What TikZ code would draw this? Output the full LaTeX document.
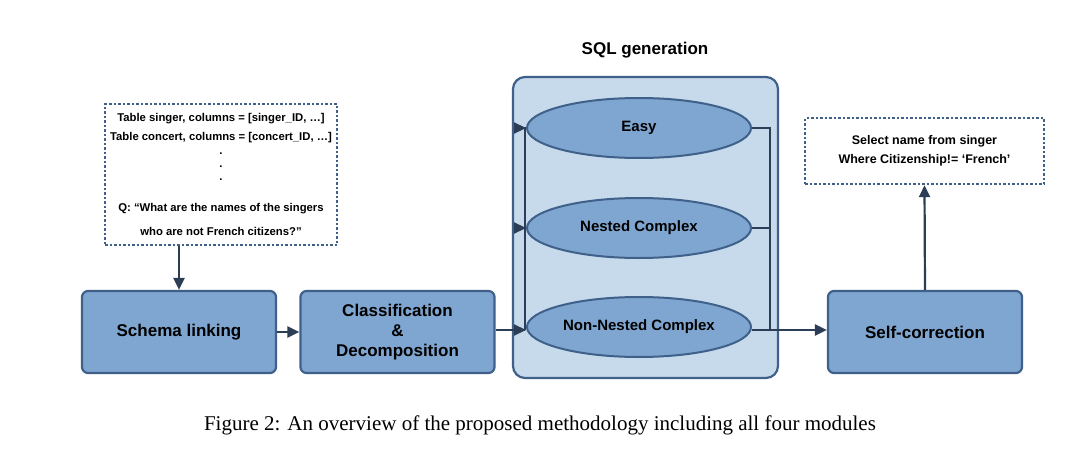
\documentclass[tikz,border=0pt]{standalone}
\usepackage{fontspec}
\setmainfont{Liberation Sans}
\newfontfamily\capfont{Liberation Serif}
\usetikzlibrary{shapes.geometric,arrows.meta}
\definecolor{bfill}{HTML}{7FA6D0}
\definecolor{bedge}{HTML}{3F6189}
\definecolor{bigfill}{HTML}{C6DAEC}
\definecolor{lnc}{HTML}{2C3E55}
\begin{document}
\begin{tikzpicture}[x=1pt,y=-1pt,
 box/.style={draw=bedge,line width=2.2pt,fill=bfill,rounded corners=6pt,minimum width=194pt,minimum height=82pt,font=\bfseries\fontsize{17}{20}\selectfont,align=center},
 ell/.style={ellipse,draw=bedge,line width=2pt,fill=bfill,minimum width=224pt,minimum height=60pt,font=\bfseries\fontsize{15}{18}\selectfont},
 dbox/.style={draw=bedge,line width=2.4pt,dash pattern=on 2.5pt off 2pt,fill=white,font=\bfseries\fontsize{12.5}{15}\selectfont,align=center},
 tx/.style={font=\bfseries\fontsize{11.3}{14}\selectfont},
 con/.style={draw=lnc,line width=2.2pt},
 arr/.style={con,-{Triangle[length=12pt,width=11pt]}}]
\useasboundingbox (0,0) rectangle (1080,463);
\fill[white] (0,0) rectangle (1080,463);
\node[draw=bedge,line width=2.2pt,fill=bigfill,rounded corners=12pt,minimum width=265pt,minimum height=301pt] (sqlbox) at (645.5,227.5) {};
\node[font=\bfseries\fontsize{17}{20}\selectfont] (sqlt) at (645,50) {SQL generation};
\node[dbox,minimum width=232pt,minimum height=141pt] (inp) at (221,174.5) {};
\node[tx] (l1) at (221,119) {Table singer, columns = [singer\_ID, …]};
\node[tx] (l2) at (221,138) {Table concert, columns = [concert\_ID, …]};
\node[tx] (d1) at (221,154) {.};
\node[tx] (d2) at (221,167) {.};
\node[tx] (d3) at (221,180) {.};
\node[tx] (l3) at (221,209) {Q: “What are the names of the singers};
\node[tx] (l4) at (221,231) {who are not French citizens?”};
\node[box] (schema) at (179,332) {Schema linking};
\node[box] (cls) at (397.5,332) {Classification\\\&\\Decomposition};
\node[box] (self) at (925,332) {Self-correction};
\node[dbox,minimum width=239pt,minimum height=66pt] (out) at (924.5,151) {Select name from singer\\[4pt]Where Citizenship!= ‘French’};
\node[ell] (easy) at (639,128) {Easy};
\node[ell] (nest) at (639,228) {Nested Complex};
\node[ell] (non) at (639,327) {Non-Nested Complex};
\coordinate (sl) at (525,330);
\coordinate (sr) at (770,330);
\draw[arr] (inp.south -| schema.north) -- (schema.north);
\draw[arr] (schema.east) -- (cls.west);
\draw[con] (cls.east |- sl) -- (sl);
\draw[arr] (sl) |- (easy.west);
\draw[arr] (sl |- nest.west) -- (nest.west);
\draw[arr] (sl) -- (non.west |- sl);
\draw[con] (easy.east) -| (sr);
\draw[con] (nest.east) -- (sr |- nest.east);
\draw[arr] (non.east |- sr) -- (self.west |- sr);
\draw[arr] (self.north) -- (out.south);
\node[font=\capfont\fontsize{21}{24}\selectfont] (cap) at (540,425) {Figure 2: An overview of the proposed methodology including all four modules};
\end{tikzpicture}
\end{document}
